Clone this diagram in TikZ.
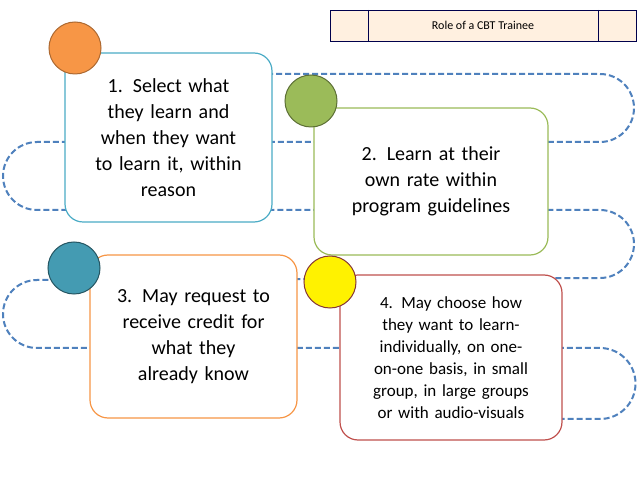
\documentclass[tikz,border=0pt]{standalone}
\usepackage{fontspec}
\setmainfont{Carlito}
\begin{document}
\begin{tikzpicture}[x=1pt,y=-1pt,
  card/.style={draw,line width=1.2pt,rounded corners=18pt,fill=white,align=center,font=\fontsize{20}{26}\selectfont,inner sep=0pt},
  dot/.style={circle,draw,line width=1pt,minimum size=52pt,inner sep=0pt},
  snake/.style={draw=dashblue,dashed,dash pattern=on 6pt off 3pt,line width=2pt}]
\definecolor{dashblue}{HTML}{4F81BD}
\definecolor{c1}{HTML}{4BACC6}
\definecolor{c2}{HTML}{9BBB59}
\definecolor{c3}{HTML}{F79646}
\definecolor{c4}{HTML}{C0504D}
\useasboundingbox (0,0) rectangle (638,478);
\fill[white] (0,0) rectangle (638,478);
% serpentine
\draw[snake] (150,74) -- (600,74) arc[start angle=-90,end angle=90,radius=34] -- (37,142)
  arc[start angle=-90,end angle=-270,radius=34] -- (600,210)
  arc[start angle=-90,end angle=90,radius=34] -- (37,280)
  arc[start angle=-90,end angle=-270,radius=34] -- (600,348)
  arc[start angle=-90,end angle=90,radius=35.5] -- (560,419);
% title
\node[draw=black!70!blue,fill=orange!12,minimum width=306pt,minimum height=31pt,inner sep=0pt,font=\fontsize{12}{14}\selectfont] (title) at (483,25.5) {Role of a CBT Trainee};
\draw[black!70!blue] (368,10) -- (368,41) (598,10) -- (598,41);
% cards
\node[card,draw=c1,minimum width=207pt,minimum height=169pt,text width=180pt] (b1) at (168.5,137.5) {1. Select what\\they learn and\\when they want\\to learn it, within\\reason};
\node[card,draw=c2,minimum width=234pt,minimum height=147pt,text width=210pt] (b2) at (431,181.5) {2. Learn at their\\own rate within\\program guidelines};
\node[card,draw=c3,minimum width=207pt,minimum height=163pt,text width=190pt] (b3) at (193.5,336.5) {3. May request to\\receive credit for\\what they\\already know};
\node[card,draw=c4,minimum width=222pt,minimum height=165pt,text width=200pt,font=\fontsize{17}{22}\selectfont] (b4) at (451,357.5) {4. May choose how\\they want to learn-\\individually, on one-\\on-one basis, in small\\group, in large groups\\or with audio-visuals};
% dots
\node[dot,fill=c3,draw=c3!70!black] (d1) at (75,48) {};
\node[dot,fill=c2,draw=c2!60!black] (d2) at (311,101) {};
\node[dot,fill=c1!90!black,draw=c1!50!black] (d3) at (74,268) {};
\node[dot,fill=yellow,draw=c4!70!black] (d4) at (330,282) {};
\end{tikzpicture}
\end{document}
